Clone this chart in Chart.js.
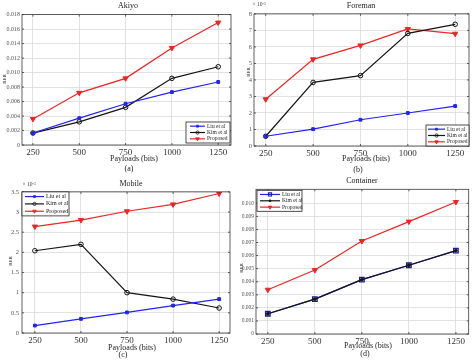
<!DOCTYPE html>
<html>
<head>
<meta charset="utf-8">
<script src="https://cdn.jsdelivr.net/npm/chart.js@4/dist/chart.umd.min.js"></script>
<style>
  body { margin: 0; background: #fff; width: 474px; height: 360px; overflow: hidden; position: relative;
         font-family: 'Liberation Serif', serif; color: #222; }
  canvas { position: absolute; }
  .t { position: absolute; transform: translate(-50%, -50%); white-space: nowrap; line-height: 1; }
  .v { transform: translate(-50%, -50%) rotate(-90deg); }
  sup { font-size: 70%; vertical-align: 40%; }
</style>
</head>
<body>
<canvas id="cA"></canvas>
<canvas id="cB"></canvas>
<canvas id="cC"></canvas>
<canvas id="cD"></canvas>

<div class="t" style="left:128px;top:6px;font-size:8px">Akiyo</div>
<div class="t" style="left:361px;top:6px;font-size:8px">Foreman</div>
<div class="t" style="left:131px;top:184px;font-size:8px">Mobile</div>
<div class="t" style="left:362px;top:181px;font-size:8px">Container</div>

<div class="t" style="left:134px;top:159px;font-size:8px">Payloads (bits)</div>
<div class="t" style="left:366px;top:159px;font-size:8px">Payloads (bits)</div>
<div class="t" style="left:132px;top:348px;font-size:8px">Payloads (bits)</div>
<div class="t" style="left:368px;top:346px;font-size:8px">Payloads (bits)</div>

<div class="t" style="left:129px;top:169px;font-size:8px">(a)</div>
<div class="t" style="left:358px;top:170px;font-size:8px">(b)</div>
<div class="t" style="left:123px;top:355px;font-size:8px">(c)</div>
<div class="t" style="left:365px;top:354px;font-size:8px">(d)</div>

<div class="t v" style="left:4px;top:79px;font-size:5px">BER</div>
<div class="t v" style="left:248px;top:72px;font-size:5px">BER</div>
<div class="t v" style="left:10px;top:261px;font-size:5px">BER</div>
<div class="t v" style="left:241px;top:268px;font-size:5px">BER</div>

<div class="t" style="left:259px;top:5px;font-size:5.5px;color:#444">&times; 10<sup>-3</sup></div>
<div class="t" style="left:29px;top:185px;font-size:5.5px;color:#444">&times; 10<sup>-3</sup></div>

<script>
// payload sizes on the x axis
var payloads = [250, 500, 750, 1000, 1250];

// (a) Akiyo
var akiyoLiu  = [0.00165, 0.0037, 0.0057, 0.0073, 0.0087];
var akiyoKim  = [0.00165, 0.0032, 0.0052, 0.0092, 0.0108];
var akiyoProp = [0.0036, 0.0072, 0.0092, 0.0134, 0.0169];
var akiyoTicks = [0, 0.002, 0.004, 0.006, 0.008, 0.010, 0.012, 0.014, 0.016, 0.018];

// (b) Foreman, x 10^-3
var foremanLiu  = [0.59, 1.02, 1.59, 2.0, 2.42];
var foremanKim  = [0.59, 3.85, 4.26, 6.82, 7.37];
var foremanProp = [2.83, 5.25, 6.09, 7.09, 6.8];
var foremanTicks = [0, 1, 2, 3, 4, 5, 6, 7, 8];

// (c) Mobile, x 10^-3
var mobileLiu  = [0.185, 0.35, 0.51, 0.68, 0.84];
var mobileKim  = [2.04, 2.2, 1.0, 0.84, 0.62];
var mobileProp = [2.64, 2.8, 3.02, 3.19, 3.46];
var mobileTicks = [0, 0.5, 1, 1.5, 2, 2.5, 3, 3.5];

// (d) Container
var containerLiu  = [0.00155, 0.00267, 0.00416, 0.00526, 0.00638];
var containerKim  = [0.00155, 0.00267, 0.00416, 0.00526, 0.00638];
var containerProp = [0.00339, 0.00489, 0.00711, 0.0086, 0.0101];
var containerTicks = [0, 0.001, 0.002, 0.003, 0.004, 0.005, 0.006, 0.007, 0.008, 0.009, 0.010];

var FONT = "'Liberation Serif', serif";
var BLUE = '#2323ee', BLACK = '#151515', RED = '#ee2424';
var X_H = 13;

function pts(vals) {
  return payloads.map(function (p, i) { return { x: p, y: vals[i] }; });
}

function liu(vals) {
  return { label: 'Liu et al', data: pts(vals), borderColor: BLUE, borderWidth: 1.2,
    pointStyle: 'rect', pointRadius: 2, pointBackgroundColor: BLUE, pointBorderColor: BLUE, pointBorderWidth: 1 };
}
function kim(vals) {
  return { label: 'Kim et al', data: pts(vals), borderColor: BLACK, borderWidth: 1.2,
    pointStyle: 'circle', pointRadius: 2.3, pointBackgroundColor: 'rgba(0,0,0,0)', pointBorderColor: BLACK, pointBorderWidth: 1 };
}
function prop(vals) {
  return { label: 'Proposed', data: pts(vals), borderColor: RED, borderWidth: 1.2,
    pointStyle: 'triangle', pointRotation: 180, pointRadius: 3, pointBackgroundColor: RED, pointBorderColor: RED, pointBorderWidth: 1 };
}

/* caja del eje + marcas hacia dentro + leyenda */
var framePlugin = {
  id: 'frame',
  afterDraw: function (chart, args, opts) {
    var ca = chart.chartArea, ctx = chart.ctx;
    ctx.save();
    ctx.strokeStyle = '#3a3a3a';
    ctx.lineWidth = 0.8;
    ctx.strokeRect(ca.left, ca.top, ca.right - ca.left, ca.bottom - ca.top);
    ctx.beginPath();
    chart.scales.x.ticks.forEach(function (t) {
      var px = chart.scales.x.getPixelForValue(t.value);
      ctx.moveTo(px, ca.bottom); ctx.lineTo(px, ca.bottom - 2);
      ctx.moveTo(px, ca.top); ctx.lineTo(px, ca.top + 2);
    });
    chart.scales.y.ticks.forEach(function (t) {
      var py = chart.scales.y.getPixelForValue(t.value);
      ctx.moveTo(ca.left, py); ctx.lineTo(ca.left + 2, py);
      ctx.moveTo(ca.right, py); ctx.lineTo(ca.right - 2, py);
    });
    ctx.stroke();

    var lg = opts.legend;
    if (lg) {
      var x = lg.corner === 'br' ? ca.right - lg.w - lg.dx : ca.left + lg.dx;
      var y = lg.corner === 'br' ? ca.bottom - lg.h - lg.dy : ca.top + lg.dy;
      ctx.fillStyle = '#fff';
      ctx.fillRect(x, y, lg.w, lg.h);
      ctx.strokeStyle = '#222';
      ctx.strokeRect(x, y, lg.w, lg.h);
      var dsets = chart.data.datasets;
      var rowH = (lg.h - 2) / dsets.length;
      dsets.forEach(function (ds, i) {
        var cy = y + 1 + rowH * (i + 0.5);
        ctx.strokeStyle = ds.borderColor;
        ctx.lineWidth = ds.borderWidth;
        ctx.beginPath();
        ctx.moveTo(x + lg.pad, cy);
        ctx.lineTo(x + lg.pad + lg.line, cy);
        ctx.stroke();
        ctx.fillStyle = ds.pointBackgroundColor;
        ctx.strokeStyle = ds.pointBorderColor;
        ctx.lineWidth = ds.pointBorderWidth * 0.8;
        Chart.helpers.drawPoint(ctx, {
          pointStyle: ds.pointStyle, radius: ds.pointRadius * 0.7,
          rotation: ds.pointRotation || 0, borderWidth: ds.pointBorderWidth * 0.8
        }, x + lg.pad + lg.line / 2, cy);
        ctx.fillStyle = '#222';
        ctx.font = lg.font + 'px ' + FONT;
        ctx.textAlign = 'left';
        ctx.textBaseline = 'middle';
        ctx.fillText(ds.label, x + lg.pad + lg.line + 2, cy);
      });
    }
    ctx.restore();
  }
};

function makePanel(p) {
  var cv = document.getElementById(p.id);
  var left = p.plot[0] - p.yW, top = p.plot[1] - 2;
  var w = p.plot[2] - left + 2, h = p.plot[3] - top + X_H;
  cv.width = w; cv.height = h;
  cv.style.left = left + 'px'; cv.style.top = top + 'px';
  cv.style.width = w + 'px'; cv.style.height = h + 'px';

  return new Chart(cv, {
    type: 'line',
    data: { datasets: p.datasets },
    options: {
      responsive: false,
      animation: false,
      events: [],
      layout: { padding: { top: 2, right: 2, left: 0, bottom: 0 } },
      plugins: { legend: { display: false }, tooltip: { enabled: false }, frame: { legend: p.legend } },
      scales: {
        x: {
          type: 'linear', min: p.xRange[0], max: p.xRange[1],
          afterBuildTicks: function (s) { s.ticks = payloads.map(function (v) { return { value: v }; }); },
          afterFit: function (s) { s.height = X_H; },
          grid: { color: '#dadada', lineWidth: 0.8, drawTicks: false },
          border: { display: false },
          ticks: { font: { family: FONT, size: 9 }, color: '#333', padding: 2, maxRotation: 0, autoSkip: false,
                   callback: function (v) { return String(v); } }
        },
        y: {
          min: p.yRange[0], max: p.yRange[1],
          afterBuildTicks: function (s) { s.ticks = p.yTicks.map(function (v) { return { value: v }; }); },
          afterFit: function (s) { s.width = p.yW; },
          grid: { color: '#dadada', lineWidth: 0.8, drawTicks: false },
          border: { display: false },
          ticks: { font: { family: FONT, size: p.yFont }, color: '#555', padding: p.yPad, autoSkip: false,
                   callback: p.yFmt }
        }
      }
    },
    plugins: [framePlugin]
  });
}

function fmt3(v) { return v === 0 ? '0' : v.toFixed(3); }
function fmtPlain(v) { return String(v); }

makePanel({ id: 'cA', plot: [22, 11, 234, 145], yW: 22, yPad: 2, yFont: 6,
  xRange: [191, 1319], yRange: [0, 0.018], yTicks: akiyoTicks, yFmt: fmt3,
  datasets: [liu(akiyoLiu), kim(akiyoKim), prop(akiyoProp)],
  legend: { corner: 'br', w: 44, h: 21, dx: 1, dy: 2, pad: 4, line: 15, font: 5.5 } });

makePanel({ id: 'cB', plot: [254, 10, 472, 146], yW: 12, yPad: 2, yFont: 6.5,
  xRange: [188, 1323], yRange: [0, 8], yTicks: foremanTicks, yFmt: fmtPlain,
  datasets: [liu(foremanLiu), kim(foremanKim), prop(foremanProp)],
  legend: { corner: 'br', w: 43, h: 21, dx: 0, dy: 0, pad: 2, line: 17, font: 5.5 } });

makePanel({ id: 'cC', plot: [22, 187, 233, 333], yW: 22, yPad: 3, yFont: 6.5,
  xRange: [180, 1309], yRange: [0, 3.5], yTicks: mobileTicks, yFmt: fmtPlain,
  datasets: [liu(mobileLiu), kim(mobileKim), prop(mobileProp)],
  legend: { corner: 'tl', w: 47, h: 24, dx: 0, dy: 0, pad: 3, line: 19, font: 6 } });

var dLiu = liu(containerLiu);
dLiu.pointRadius = 3.2; dLiu.pointBackgroundColor = 'rgba(0,0,0,0)';
dLiu.pointBorderColor = '#1c1c9a'; dLiu.pointBorderWidth = 1.3; dLiu.order = 2;
var dKim = kim(containerKim);
dKim.pointRadius = 1.4; dKim.pointBackgroundColor = BLACK; dKim.order = 1;
var dProp = prop(containerProp);
dProp.order = 0;

makePanel({ id: 'cD', plot: [256, 186, 472, 334], yW: 19, yPad: 2, yFont: 5.5,
  xRange: [187, 1318], yRange: [0, 0.01107], yTicks: containerTicks, yFmt: fmt3,
  datasets: [dLiu, dKim, dProp],
  legend: { corner: 'tl', w: 45, h: 21, dx: 1, dy: 1, pad: 3, line: 20, font: 5.5 } });
</script>
</body>
</html>
